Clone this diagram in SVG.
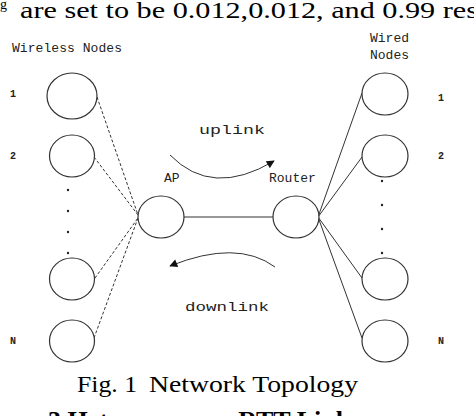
<svg xmlns="http://www.w3.org/2000/svg" width="474" height="416" viewBox="0 0 474 416">
<defs>
<style>
.n{fill:#fff;stroke:#333;stroke-width:1.2}
.m{font-family:"Liberation Mono","DejaVu Sans Mono",monospace;font-size:13px;fill:#222}
.s{font-family:"Liberation Mono","DejaVu Sans Mono",monospace;font-size:10px;font-weight:bold;fill:#222;text-anchor:middle}
.t{font-family:"Liberation Serif","Times New Roman",serif;fill:#000}
.w{stroke:#333;stroke-width:1;stroke-dasharray:3 2;fill:none}
.l{stroke:#333;stroke-width:1;fill:none}
.d{fill:#222}
</style>
<marker id="ah" viewBox="0 0 10 10" refX="9" refY="5" markerWidth="9" markerHeight="8" markerUnits="userSpaceOnUse" orient="auto">
<path d="M0,0 L10,5 L0,10 z" fill="#111"/>
</marker>
</defs>
<rect width="474" height="416" fill="#fff"/>
<text class="t" x="0" y="9" font-size="14">g</text>
<text class="t" x="20" y="18" font-size="24" textLength="458" lengthAdjust="spacingAndGlyphs">are set to be 0.012,0.012, and 0.99 res</text>
<text class="m" x="12" y="52" textLength="110">Wireless Nodes</text>
<text class="m" x="370" y="42">Wired</text>
<text class="m" x="370" y="59">Nodes</text>
<g id="connectors">
<line class="w" x1="97" y1="97" x2="138" y2="215"/>
<line class="w" x1="94" y1="157" x2="138" y2="215"/>
<line class="w" x1="95" y1="278" x2="138" y2="218"/>
<line class="w" x1="94" y1="338" x2="138" y2="218"/>
<line class="l" x1="184" y1="217" x2="273" y2="217"/>
<line class="l" x1="318" y1="217" x2="362" y2="93"/>
<line class="l" x1="318" y1="217" x2="362" y2="157"/>
<line class="l" x1="318" y1="217" x2="362" y2="278"/>
<line class="l" x1="318" y1="217" x2="362" y2="338"/>
<path class="l" d="M170,155 Q212,198 274,161" marker-end="url(#ah)"/>
<path class="l" d="M275,267 Q237,239 170,266" marker-end="url(#ah)"/>
</g>
<g id="wireless1"><ellipse class="n" cx="72" cy="96" rx="25" ry="23"/><text class="s" x="13" y="97">1</text></g>
<g id="wireless2"><ellipse class="n" cx="72" cy="156" rx="22.5" ry="21"/><text class="s" x="13" y="159">2</text></g>
<g id="wirelessDots"><circle class="d" cx="68" cy="190" r="1.2"/><circle class="d" cx="68" cy="211" r="1.2"/><circle class="d" cx="68" cy="232" r="1.2"/><circle class="d" cx="68" cy="253" r="1.2"/></g>
<g id="wirelessN1"><ellipse class="n" cx="72" cy="279" rx="22.5" ry="21"/></g>
<g id="wirelessN"><ellipse class="n" cx="72" cy="341" rx="22.5" ry="21"/><text class="s" x="13" y="344">N</text></g>
<g id="ap"><ellipse class="n" cx="161" cy="217" rx="23" ry="21"/><text class="m" x="164" y="182">AP</text></g>
<g id="router"><ellipse class="n" cx="296" cy="217" rx="23" ry="21"/><text class="m" x="269" y="182">Router</text></g>
<g id="wired1"><ellipse class="n" cx="385" cy="94" rx="23" ry="21"/><text class="s" x="441" y="101">1</text></g>
<g id="wired2"><ellipse class="n" cx="385" cy="156" rx="23" ry="21"/><text class="s" x="441" y="159">2</text></g>
<g id="wiredDots"><circle class="d" cx="382" cy="181" r="1.2"/><circle class="d" cx="382" cy="205" r="1.2"/><circle class="d" cx="382" cy="229" r="1.2"/><circle class="d" cx="382" cy="253" r="1.2"/></g>
<g id="wiredN1"><ellipse class="n" cx="385" cy="279" rx="23" ry="21"/></g>
<g id="wiredN"><ellipse class="n" cx="385" cy="341" rx="23" ry="21"/><text class="s" x="441" y="344">N</text></g>
<text class="m" x="199" y="134" font-size="18" textLength="66" lengthAdjust="spacingAndGlyphs">uplink</text>
<text class="m" x="185" y="311" font-size="16" textLength="84" lengthAdjust="spacingAndGlyphs">downlink</text>
<text class="t" x="77" y="392" font-size="24" textLength="60" lengthAdjust="spacingAndGlyphs">Fig. 1</text>
<text class="t" x="149" y="392" font-size="24" textLength="209" lengthAdjust="spacingAndGlyphs">Network Topology</text>
<text class="t" x="48" y="429" font-size="26" font-weight="bold">3 Heterogeneous RTT Links</text>
</svg>
